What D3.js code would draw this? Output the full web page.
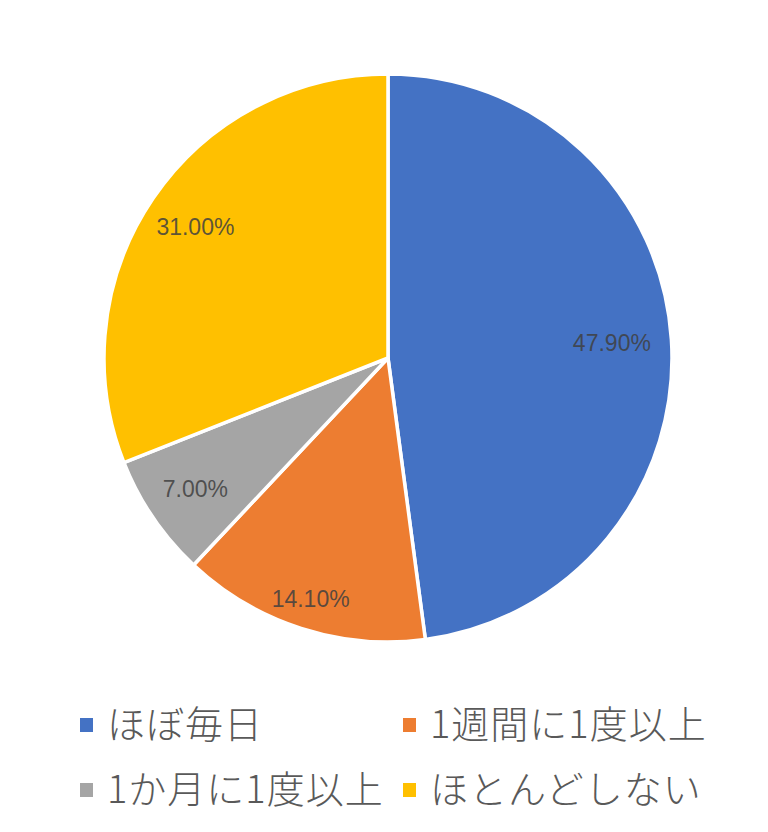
<!DOCTYPE html>
<html>
	<head>
		<meta charset="utf-8" />
		<title>Pie</title>
		<script src="https://cdn.jsdelivr.net/npm/d3@7"></script>
		<style>
			body {
				margin: 0;
				background: #fff;
				font-family: 'Noto Sans CJK JP', 'Noto Sans', sans-serif;
			}
			.slice {
				stroke: #fff;
				stroke-width: 3.5px;
			}
			.label {
				font-family: 'Liberation Sans', 'Noto Sans', sans-serif;
				font-size: 23px;
				fill: #404040;
				fill-opacity: 0.85;
			}
			.legend text {
				font-size: 38px;
				font-weight: 300;
				letter-spacing: 1px;
				fill: #595959;
			}
		</style>
	</head>
	<body>
		<svg id="chart"></svg>
		<script>
			const categories = ['ほぼ毎日', '1週間に1度以上', '1か月に1度以上', 'ほとんどしない'];
			const values = [47.9, 14.1, 7.0, 31.0];
			const labels = ['47.90%', '14.10%', '7.00%', '31.00%'];
			const colors = ['#4472C4', '#ED7D31', '#A5A5A5', '#FFC000'];

			// label distance from centre, as share of radius (excel best fit)
			const labelR = [0.79, 0.89, 0.82, 0.82];

			const width = 768;
			const height = 832;
			const cx = 388;
			const cy = 358;
			const radius = 284;

			const svg = d3
				.select('#chart')
				.attr('width', width)
				.attr('height', height);

			const pie = d3.pie().sort(null).value((d) => d);
			const arcs = pie(values);
			const arc = d3.arc().innerRadius(0).outerRadius(radius);

			const g = svg.append('g').attr('transform', `translate(${cx},${cy})`);

			g.selectAll('.slice')
				.data(arcs)
				.enter()
				.append('path')
				.classed('slice', true)
				.attr('d', arc)
				.attr('fill', (d, i) => colors[i]);

			g.selectAll('.label')
				.data(arcs)
				.enter()
				.append('text')
				.classed('label', true)
				.attr('text-anchor', 'middle')
				.attr('dominant-baseline', 'central')
				.attr('transform', (d, i) => {
					const a = (d.startAngle + d.endAngle) / 2;
					const r = radius * labelR[i];
					return `translate(${r * Math.sin(a)},${-r * Math.cos(a)})`;
				})
				.text((d, i) => labels[i]);

			// legend, two per row
			const legendX = [80, 403];
			const legendY = [725, 790];

			const items = svg
				.append('g')
				.classed('legend', true)
				.selectAll('g')
				.data(categories)
				.enter()
				.append('g')
				.attr('transform', (d, i) => `translate(${legendX[i % 2]},${legendY[Math.floor(i / 2)]})`);

			items
				.append('rect')
				.attr('x', 0)
				.attr('y', -7)
				.attr('width', 13)
				.attr('height', 14)
				.attr('fill', (d, i) => colors[i]);

			items
				.append('text')
				.attr('x', 27)
				.attr('y', 13)
				.text((d) => d);
		</script>
	</body>
</html>
